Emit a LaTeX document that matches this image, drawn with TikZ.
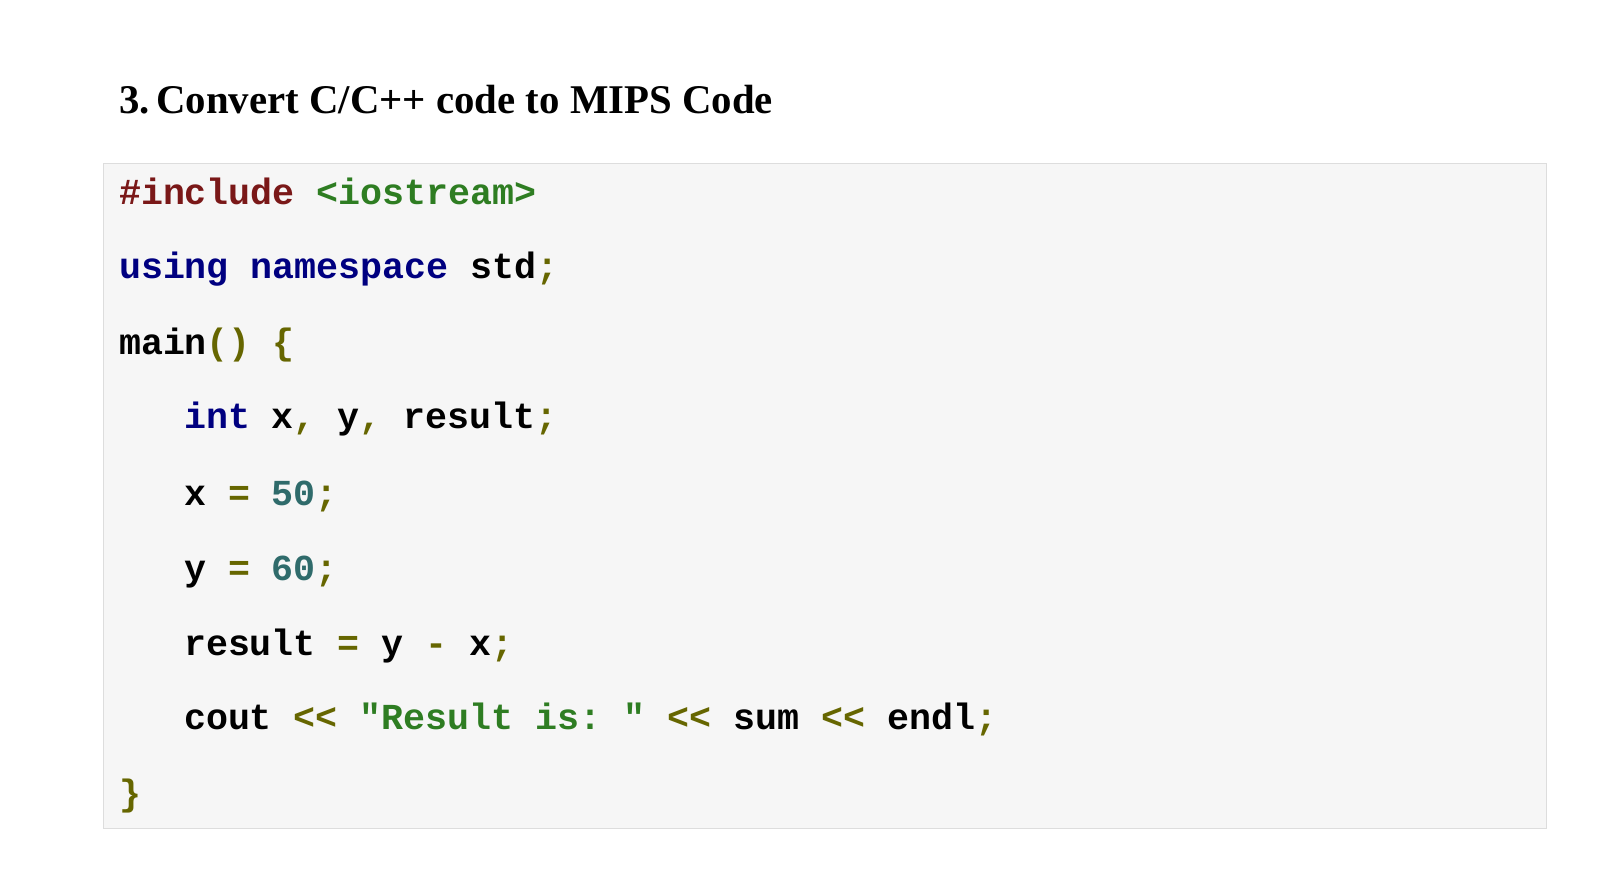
\documentclass[tikz,border=0pt]{standalone}
\usepackage{fontspec}
\setmainfont{Liberation Serif}
\setmonofont{Liberation Mono}
\definecolor{boxbg}{HTML}{F6F6F6}
\definecolor{boxline}{HTML}{DDDDDD}
\definecolor{prep}{HTML}{7A1818}
\definecolor{strg}{HTML}{2E7D22}
\definecolor{kw}{HTML}{000080}
\definecolor{pun}{HTML}{666600}
\definecolor{num}{HTML}{2F6B6B}
\newcommand{\kw}[1]{\textcolor{kw}{#1}}
\newcommand{\pn}[1]{\textcolor{pun}{#1}}
\newcommand{\nm}[1]{\textcolor{num}{#1}}
\newcommand{\st}[1]{\textcolor{strg}{#1}}
\begin{document}
\begin{tikzpicture}[x=0.02cm, y=-0.02cm,
  codeline/.style={anchor=base west, inner sep=0pt, font=\ttfamily\bfseries\fontsize{20.2}{21}\selectfont}]
\useasboundingbox (0,0) rectangle (1560,867);
\node (title) at (115,110) [anchor=base west, inner sep=0pt, font=\bfseries\fontsize{22.5}{26}\selectfont] {3.\,Convert C/C++ code to MIPS Code};
\draw[boxline, fill=boxbg] (100,158) rectangle (1498,803);

\node (l1) at (115,198) [codeline] {\textcolor{prep}{\#include} \st{<iostream>}};
\node (l2) at (115,270) [codeline] {\kw{using} \kw{namespace} std\pn{;}};
\node (l3) at (115,343) [codeline] {main\pn{()} \pn{\{}};
\node (l4) at (178,415) [codeline] {\kw{int} x\pn{,} y\pn{,} result\pn{;}};
\node (l5) at (178,490) [codeline] {x \pn{=} \nm{50}\pn{;}};
\node (l6) at (178,562) [codeline] {y \pn{=} \nm{60}\pn{;}};
\node (l7) at (178,635) [codeline] {result \pn{=} y \pn{-} x\pn{;}};
\node (l8) at (178,707) [codeline] {cout \pn{<<} \st{"Result is: "} \pn{<<} sum \pn{<<} endl\pn{;}};
\node (l9) at (115,780) [codeline] {\pn{\}}};
\end{tikzpicture}
\end{document}
